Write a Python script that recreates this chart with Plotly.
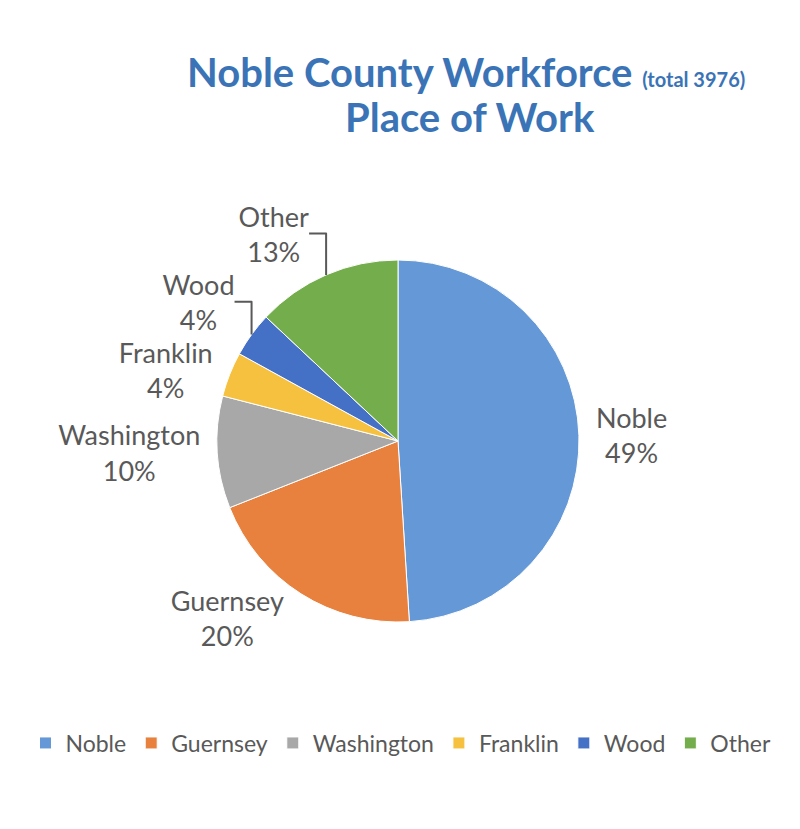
import plotly.graph_objects as go

# ── DATA ─────────────────────────────────────────────
places   = ["Noble", "Guernsey", "Washington", "Franklin", "Wood", "Other"]
shares   = [49, 20, 10, 4, 4, 13]          # percent of 3976 workers
colors   = ["#6498D6", "#E8813E", "#A8A8A8", "#F5C13F", "#4470C6", "#74AD4C"]
TOTAL    = 3976

FONT     = "Lato, Noto Sans, sans-serif"
GREY     = "#595959"
BLUE     = "#3A74B6"
W, H     = 800, 829

def py(px):            # pixel row (from top) -> paper y
    return 1 - px / H

# ── PIE ──────────────────────────────────────────────
CX, CY, R = 390, 433, 181
fig = go.Figure(go.Pie(
    labels=places, values=shares, sort=False,
    direction="clockwise", rotation=0,
    marker=dict(colors=colors, line=dict(color="white", width=1)),
    texttemplate="%{label}<br>%{percent:.0%}",
    textposition="outside",
    textfont=dict(family=FONT, size=27, color=GREY),
    hoverinfo="label+percent",
    domain=dict(x=[(CX - R) / W, (CX + R) / W], y=[py(CY + R), py(CY - R)]),
))

# ── TITLE ────────────────────────────────────────────
fig.add_annotation(
    x=458 / W, y=py(64), xref="paper", yref="paper", yanchor="middle",
    showarrow=False,
    text="<b>Noble County Workforce </b><b><span style='font-size:20px'>(total %d)</span></b>" % TOTAL,
    font=dict(family=FONT, size=40, color=BLUE),
)
fig.add_annotation(
    x=462 / W, y=py(109), xref="paper", yref="paper", yanchor="middle",
    showarrow=False, text="<b>Place of Work</b>",
    font=dict(family=FONT, size=40, color=BLUE),
)

fig.update_layout(
    width=W, height=H,
    margin=dict(l=0, r=0, t=0, b=0),
    paper_bgcolor="white", plot_bgcolor="white",
    showlegend=True,
    legend=dict(orientation="h", x=393 / W, xanchor="center",
                y=py(735), yanchor="middle",
                font=dict(family=FONT, size=23, color=GREY),
                itemwidth=30, tracegroupgap=0),
)

fig.write_html("out.html")
